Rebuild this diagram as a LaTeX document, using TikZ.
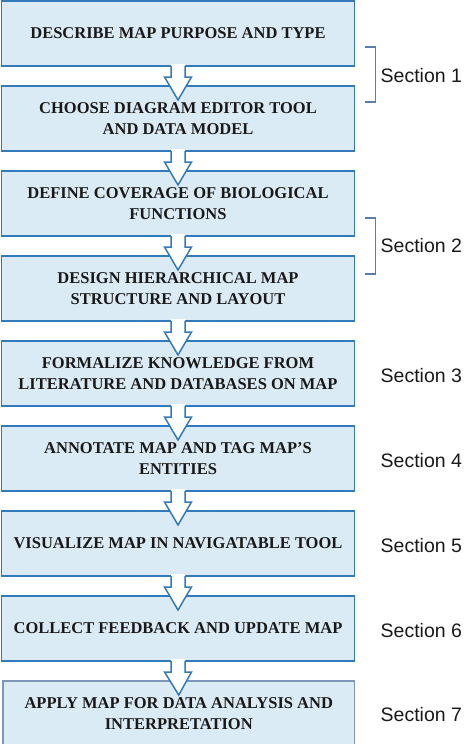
\documentclass[tikz,border=0pt]{standalone}
\usepackage{fontspec}
\setmainfont{Liberation Serif}
\newfontfamily\secfont{Liberation Sans}
\usetikzlibrary{calc}
\definecolor{boxfill}{RGB}{219,235,245}
\definecolor{boxline}{RGB}{50,122,188}
\definecolor{lastline}{RGB}{125,150,185}
\definecolor{brkline}{RGB}{90,125,175}
\newcommand{\flowarrow}[2]{%
  \fill[white] ($(#1.south)+(-7,2)$) -- ($(#1.south)+(-7,-11)$) -- ($(#1.south)+(-13.5,-11)$) -- ($(#2.north)+(0,-14)$) -- ($(#1.south)+(13.5,-11)$) -- ($(#1.south)+(7,-11)$) -- ($(#1.south)+(7,2)$) -- cycle;
  \draw[flowarr] ($(#1.south)+(-7,0)$) -- ($(#1.south)+(-7,-11)$) -- ($(#1.south)+(-13.5,-11)$) -- ($(#2.north)+(0,-14)$) -- ($(#1.south)+(13.5,-11)$) -- ($(#1.south)+(7,-11)$) -- ($(#1.south)+(7,0)$);
}
\begin{document}
\begin{tikzpicture}[x=1pt,y=1pt,
  stepbox/.style={draw=boxline, fill=boxfill, line width=1.5pt, minimum width=353pt, minimum height=65pt, inner sep=0pt, outer sep=0pt, align=center, font=\fontsize{16.5}{20.7}\selectfont\bfseries, text=black!90},
  seclabel/.style={anchor=west, inner sep=0pt, font=\secfont\fontsize{19.5}{22}\selectfont, text=black!90},
  brk/.style={draw=brkline, line width=1.2pt},
  flowarr/.style={draw=boxline, line width=1.5pt, line join=miter}
]
\useasboundingbox (0,0) rectangle (474,-744);
\node[stepbox] (b1) at (178,-33.5) {DESCRIBE MAP PURPOSE AND TYPE};
\node[stepbox] (b2) at (178,-118.5) {CHOOSE DIAGRAM EDITOR TOOL\\AND DATA MODEL};
\node[stepbox] (b3) at (178,-203.5) {DEFINE COVERAGE OF BIOLOGICAL\\FUNCTIONS};
\node[stepbox] (b4) at (178,-288.5) {DESIGN HIERARCHICAL MAP\\STRUCTURE AND LAYOUT};
\node[stepbox] (b5) at (178,-373.5) {FORMALIZE KNOWLEDGE FROM\\LITERATURE AND DATABASES ON MAP};
\node[stepbox] (b6) at (178,-458.5) {ANNOTATE MAP AND TAG MAP’S\\ENTITIES};
\node[stepbox] (b7) at (178,-543.5) {VISUALIZE MAP IN NAVIGATABLE TOOL};
\node[stepbox] (b8) at (178,-628.5) {COLLECT FEEDBACK AND UPDATE MAP};
\node[stepbox, draw=lastline, minimum width=351.5pt] (b9) at (178.75,-713.5) {APPLY MAP FOR DATA ANALYSIS AND\\INTERPRETATION};
\flowarrow{b1}{b2}
\flowarrow{b2}{b3}
\flowarrow{b3}{b4}
\flowarrow{b4}{b5}
\flowarrow{b5}{b6}
\flowarrow{b6}{b7}
\flowarrow{b7}{b8}
\flowarrow{b8}{b9}
\draw[brk] ($(b1.south east)+(10,19)$) -- ($(b1.south east)+(21,19)$) -- ($(b2.north east)+(21,-16)$) -- ($(b2.north east)+(10,-16)$);
\draw[brk] ($(b3.south east)+(10,18)$) -- ($(b3.south east)+(21,18)$) -- ($(b4.north east)+(21,-18)$) -- ($(b4.north east)+(10,-18)$);
\node[seclabel] (s1) at ($($(b1.south east)!0.5!(b2.north east)$)+(26,0)$) {Section 1};
\node[seclabel] (s2) at ($($(b3.south east)!0.5!(b4.north east)$)+(26,0)$) {Section 2};
\node[seclabel] (s3) at ($(b5.east)+(26,-2)$) {Section 3};
\node[seclabel] (s4) at ($(b6.east)+(26,-2)$) {Section 4};
\node[seclabel] (s5) at ($(b7.east)+(26,-2)$) {Section 5};
\node[seclabel] (s6) at ($(b8.east)+(26,-2)$) {Section 6};
\node[seclabel] (s7) at ($(b9.east)+(26,-1)$) {Section 7};
\end{tikzpicture}
\end{document}
